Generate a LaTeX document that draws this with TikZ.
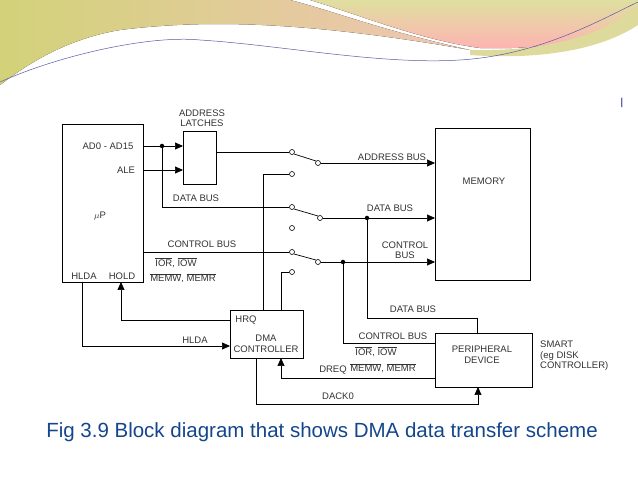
\documentclass[tikz,border=0pt]{standalone}
\usepackage{fontspec}
\setmainfont{Liberation Sans}
\usetikzlibrary{arrows.meta}
\begin{document}
\begin{tikzpicture}[x=1pt,y=-1pt,
  box/.style={draw,line width=0.9pt},
  ln/.style={line width=0.7pt},
  arr/.style={ln,-{Triangle[length=8pt,width=7pt]}},
  lab/.style={font=\fontsize{9.5}{10.5}\selectfont,inner sep=0pt,text=black!80},
  ct/.style={draw,circle,minimum size=5pt,inner sep=0pt,fill=white,line width=0.6pt},
  dot/.style={circle,fill,inner sep=0pt,minimum size=4.5pt}]
\useasboundingbox (0,0) rectangle (638,478);
\fill[white] (0,0) rectangle (638,478);
% slide decoration
\fill[left color=olive!35,right color=red!30!brown!35] (0,0) -- (290,0) .. controls (330,10) and (380,30) .. (470,50) .. controls (300,20) and (200,20) .. (120,30) .. controls (60,40) and (20,70) .. (0,85) -- cycle;
\fill[top color=olive!25,bottom color=red!30] (310,0) -- (638,0) -- (638,10) .. controls (600,40) and (550,50) .. (480,48) .. controls (420,40) and (360,15) .. (310,0) -- cycle;
\fill[olive!30] (470,50) .. controls (560,52) and (610,30) .. (638,5) -- (638,25) .. controls (600,50) and (540,60) .. (470,55) -- cycle;
\draw[blue!30!gray,line width=0.5pt] (0,82) .. controls (60,55) and (150,35) .. (200,40) .. controls (280,45) and (380,65) .. (460,60) .. controls (540,55) and (600,20) .. (638,2);
\node[lab,text=blue!50!black,font=\fontsize{10}{10}\selectfont] (mark) at (622,103) {|};
% blocks
\node[box,minimum width=81pt,minimum height=158pt,anchor=north west] (up) at (62,124) {};
\node[lab] (upl) at (100,216) {$\mu$P};
\node[lab] (ad) at (108,146) {AD0 - AD15};
\node[lab] (ale) at (126,170) {ALE};
\node[lab] (hlda) at (84,276) {HLDA};
\node[lab] (hold) at (122,276) {HOLD};
\node[box,minimum width=33pt,minimum height=53pt,anchor=north west] (lat) at (183,131) {};
\node[lab,align=center] (latl) at (202,118) {ADDRESS\\LATCHES};
\node[box,minimum width=95pt,minimum height=152pt,anchor=north west] (mem) at (435,128) {};
\node[lab] (meml) at (484,181) {MEMORY};
\node[box,minimum width=73pt,minimum height=48pt,anchor=north west] (dma) at (230,310) {};
\node[lab] (hrq) at (246,320) {HRQ};
\node[lab,align=center] (dmal) at (266,344) {DMA\\CONTROLLER};
\node[box,minimum width=97pt,minimum height=54pt,anchor=north west] (per) at (435,333) {};
\node[lab,align=center] (perl) at (482,355) {PERIPHERAL\\DEVICE};
\node[lab,align=left,anchor=west] (smart) at (540,356) {SMART\\(eg DISK\\CONTROLLER)};
% coordinates
\coordinate (adl) at (143,146);
\coordinate (alel) at (143,170);
\coordinate (d1) at (162,146);
\node[dot] (dd1) at (d1) {};
\node[ct] (s1) at (292,152) {};
\node[ct] (s1b) at (318,163) {};
\node[ct] (s2) at (292,174) {};
\node[ct] (s3) at (292,207) {};
\node[ct] (s3b) at (320,218) {};
\node[ct] (s4) at (292,228) {};
\node[ct] (s5) at (292,252) {};
\node[ct] (s5b) at (318,262) {};
\node[ct] (s6) at (292,272) {};
\node[dot] (dd2) at (367,218) {};
\node[dot] (dd3) at (343,262) {};
% connectors
\draw[arr] (adl) -- (adl-|lat.west);
\draw[arr] (alel) -- (alel-|lat.west);
\draw[ln] (dd1) |- (s3.west);
\draw[ln] (lat.east|-s1) -- (s1.west);
\draw[ln] (s1.south east) -- (s1b.north west);
\draw[ln] (s3.south east) -- (s3b.north west);
\draw[ln] (s5.south east) -- (s5b.north west);
\draw[arr] (s1b.east) -- (s1b-|mem.west);
\draw[arr] (s3b.east) -- (s3b-|mem.west);
\draw[arr] (s5b.east) -- (s5b-|mem.west);
\draw[ln] (143,252) -- (s5.west);
\draw[ln] (s2.west) -| (263,310);
\draw[ln] (s6.west) -| (281,310);
\draw[ln] (dd2) |- (477,318) -- (477,333);
\draw[ln] (dd3) |- (435,343);
\draw[arr] (dma.west|-0,320) -| (121,282);
\draw[arr] (82,282) |- (dma.west|-0,346);
\draw[arr] (per.west|-0,378) -| (281,358);
\draw[arr] (256,358) |- (478,404) -- (478,387);
% labels
\node[lab] (lb1) at (392,157) {ADDRESS BUS};
\node[lab] (lb2) at (390,208) {DATA BUS};
\node[lab,align=center] (lb3) at (405,250) {CONTROL\\BUS};
\node[lab] (lb4) at (196,198) {DATA BUS};
\node[lab] (lb5) at (202,244) {CONTROL BUS};
\node[lab] (lb6) at (176,263) {$\overline{\mbox{IOR}}$, $\overline{\mbox{IOW}}$};
\node[lab] (lb7) at (183,278) {$\overline{\mbox{MEMW}}$,\ $\overline{\mbox{MEMR}}$};
\node[lab] (lb8) at (413,309) {DATA BUS};
\node[lab] (lb9) at (393,336) {CONTROL BUS};
\node[lab] (lb10) at (376,352) {$\overline{\mbox{IOR}}$, $\overline{\mbox{IOW}}$};
\node[lab] (lb11) at (383,368) {$\overline{\mbox{MEMW}}$,\ $\overline{\mbox{MEMR}}$};
\node[lab] (lb12) at (195,340) {HLDA};
\node[lab] (lb13) at (333,370) {DREQ};
\node[lab] (lb14) at (338,396) {DACK0};
\node[inner sep=0pt,text={rgb,255:red,20;green,70;blue,140},font=\fontsize{20.5}{20}\selectfont] (cap) at (322,432) {Fig 3.9 Block diagram that shows DMA data transfer scheme};
\end{tikzpicture}
\end{document}
